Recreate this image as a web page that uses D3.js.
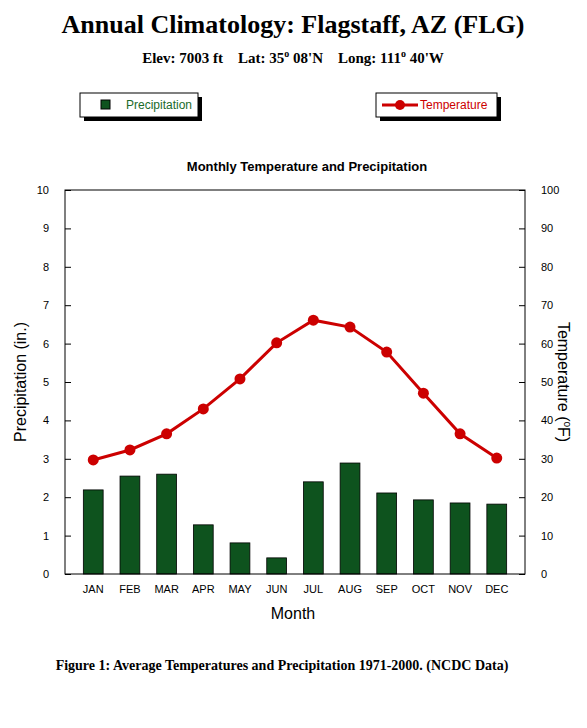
<!DOCTYPE html><html><head><meta charset="utf-8"><script src="https://cdn.jsdelivr.net/npm/d3@7"></script>
<style>body{margin:0;background:#fff}</style></head><body><svg id="c" width="587" height="728"></svg><script>
const months=["JAN","FEB","MAR","APR","MAY","JUN","JUL","AUG","SEP","OCT","NOV","DEC"];
const precip=[2.19,2.55,2.6,1.28,0.81,0.42,2.4,2.89,2.11,1.93,1.85,1.82];
const temp=[29.7,32.3,36.5,43.0,50.8,60.2,66.1,64.3,57.8,47.1,36.5,30.2];
const pTicks=d3.range(0,11), tTicks=d3.range(0,101,10);
const svg=d3.select("#c");
const L=65,R=525,T=190,B=574;
const x=d3.scaleBand().domain(months).range([L,R]).paddingOuter(0.5).paddingInner(0.46);
const yP=d3.scaleLinear().domain([0,10]).range([B,T]);
const yT=d3.scaleLinear().domain([0,100]).range([B,T]);
const serif="Times New Roman, Liberation Serif, serif", sans="Liberation Sans, Arial, sans-serif";
svg.append("text").attr("x",293).attr("y",33).attr("text-anchor","middle").attr("font-family",serif).attr("font-weight","bold").attr("font-size",26).text("Annual Climatology: Flagstaff, AZ (FLG)");
const sub=svg.append("text").attr("x",293).attr("y",63).attr("text-anchor","middle").attr("font-family",serif).attr("font-weight","bold").attr("font-size",15).attr("xml:space","preserve");
sub.append("tspan").text("Elev: 7003 ft    Lat: 35");sub.append("tspan").attr("dy",-6).attr("font-size",10).text("o");
sub.append("tspan").attr("dy",6).text(" 08'N    Long: 111");sub.append("tspan").attr("dy",-6).attr("font-size",10).text("o");
sub.append("tspan").attr("dy",6).text(" 40'W");
// legends
function box(x0,w){svg.append("rect").attr("x",x0+4).attr("y",97).attr("width",w).attr("height",24).attr("fill","#000");
svg.append("rect").attr("x",x0).attr("y",93).attr("width",w).attr("height",24).attr("fill","#fff").attr("stroke","#000");}
box(80,118);box(376,121);
svg.append("rect").attr("x",101).attr("y",100).attr("width",9).attr("height",9).attr("fill","#0e531e").attr("stroke","#000");
svg.append("text").attr("x",126).attr("y",109).attr("font-family",sans).attr("font-size",12).attr("fill","#1a6b2a").text("Precipitation");
svg.append("line").attr("x1",382).attr("x2",418).attr("y1",105).attr("y2",105).attr("stroke","#c00").attr("stroke-width",3);
svg.append("circle").attr("cx",400).attr("cy",105).attr("r",5).attr("fill","#c00");
svg.append("text").attr("x",420).attr("y",109).attr("font-family",sans).attr("font-size",12).attr("fill","#c00").text("Temperature");
svg.append("text").attr("x",307).attr("y",171).attr("text-anchor","middle").attr("font-family",sans).attr("font-weight","bold").attr("font-size",13).text("Monthly Temperature and Precipitation");
// bars
svg.selectAll(".bar").data(precip).join("rect").attr("x",(d,i)=>x(months[i])).attr("width",x.bandwidth()).attr("y",d=>yP(d)).attr("height",d=>B-yP(d)).attr("fill","#0e531e").attr("stroke","#000").attr("stroke-width",0.8);
// line
const cx=i=>x(months[i])+x.bandwidth()/2;
svg.append("path").datum(temp).attr("d",d3.line().x((d,i)=>cx(i)).y(d=>yT(d))).attr("fill","none").attr("stroke","#c00").attr("stroke-width",3);
svg.selectAll(".pt").data(temp).join("circle").attr("cx",(d,i)=>cx(i)).attr("cy",d=>yT(d)).attr("r",5.5).attr("fill","#c00");
// frame
svg.append("rect").attr("x",L).attr("y",T).attr("width",R-L).attr("height",B-T).attr("fill","none").attr("stroke","#000");
const la=svg.append("g").attr("transform",`translate(${L},0)`).call(d3.axisLeft(yP).tickValues(pTicks).tickSize(-6).tickPadding(16));
const ra=svg.append("g").attr("transform",`translate(${R},0)`).call(d3.axisRight(yT).tickValues(tTicks).tickSize(-6).tickPadding(16));
const ba=svg.append("g").attr("transform",`translate(0,${B})`).call(d3.axisBottom(x).tickSize(0).tickPadding(11));
[la,ra,ba].forEach(a=>{a.select(".domain").remove();a.selectAll("text").attr("font-family",sans).attr("font-size",11).attr("fill","#000");});
svg.append("text").attr("x",293).attr("y",619).attr("text-anchor","middle").attr("font-family",sans).attr("font-size",16).text("Month");
svg.append("text").attr("transform","translate(26,382) rotate(-90)").attr("text-anchor","middle").attr("font-family",sans).attr("font-size",16).text("Precipitation (in.)");
const rt=svg.append("text").attr("transform","translate(558,382) rotate(90)").attr("text-anchor","middle").attr("font-family",sans).attr("font-size",16);
rt.append("tspan").text("Temperature (");rt.append("tspan").attr("dy",-6).attr("font-size",10).text("o");rt.append("tspan").attr("dy",6).text("F)");
svg.append("text").attr("x",282).attr("y",670).attr("text-anchor","middle").attr("font-family",serif).attr("font-weight","bold").attr("font-size",14).text("Figure 1: Average Temperatures and Precipitation 1971-2000. (NCDC Data)");
</script></body></html>
